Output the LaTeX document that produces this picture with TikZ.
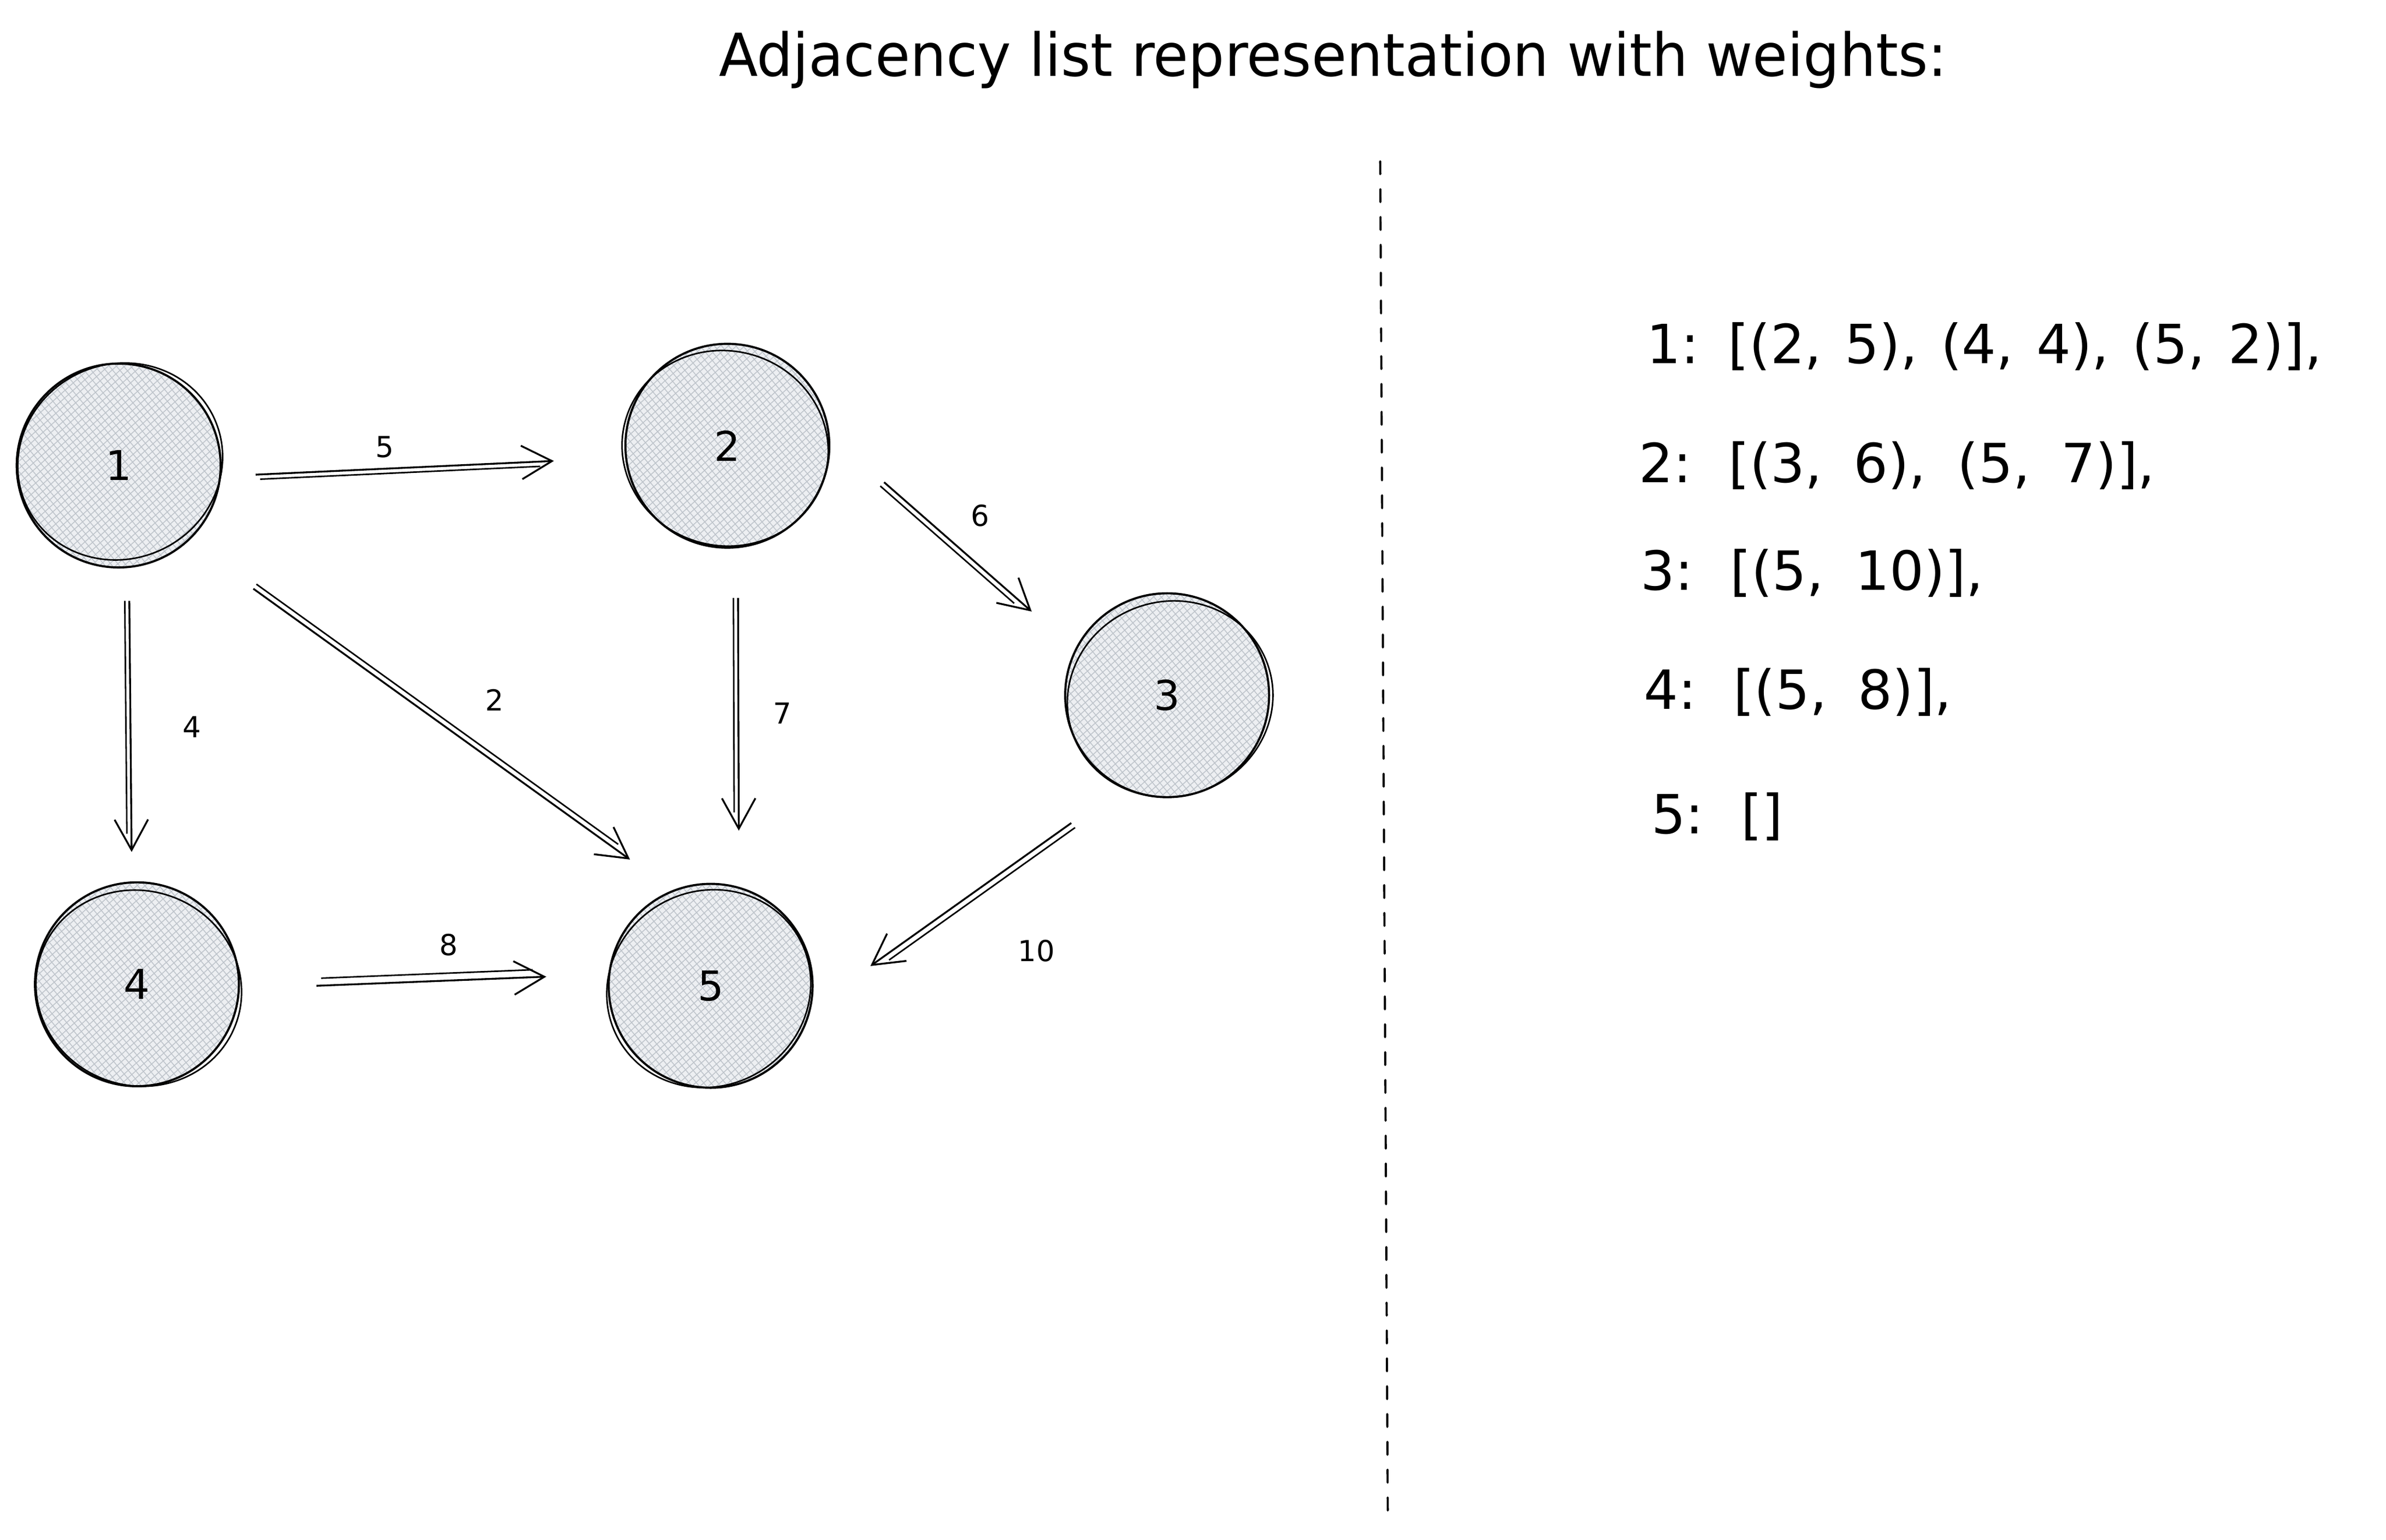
\documentclass[tikz,border=0pt]{standalone}
\usepackage{fontspec}
\setmainfont{DejaVu Sans}
\newfontfamily\titlefont[FakeStretch=0.96]{DejaVu Sans}
\newfontfamily\listfont[WordSpace=1.7]{DejaVu Sans}
\newfontfamily\listfontnarrow[WordSpace=1.35]{DejaVu Sans}
\usetikzlibrary{arrows.meta,patterns.meta}
\definecolor{hatch}{HTML}{BEC4CB}
\definecolor{nodebg}{HTML}{EDEFF2}
\newcommand{\skedge}[3]{\draw[edge] #1 -- #2; \draw[edgeb, transform canvas={shift={#3}}] #1 -- #2;}
\begin{document}
\begin{tikzpicture}[x=1pt,y=-1pt,
  gnode/.style={circle, draw=black, line width=1.4pt, minimum size=134pt, inner sep=0pt,
    font=\fontsize{27}{30}\selectfont,
    preaction={fill=nodebg},
    preaction={pattern={Lines[angle=42,distance=3.6pt,line width=0.55pt]}, pattern color=hatch},
    preaction={pattern={Lines[angle=-50,distance=3.6pt,line width=0.55pt]}, pattern color=hatch}},
  sketch/.style={draw=black, line width=1pt},
  edge/.style={line width=1.2pt, -{Straight Barb[length=20pt,width=22pt,line width=1.2pt]}},
  edgeb/.style={line width=1pt, shorten >=12pt},
  elabel/.style={font=\fontsize{19}{22}\selectfont, inner sep=0pt},
  listtext/.style={font=\listfont\fontsize{35.5}{40}\selectfont, inner sep=0pt},
  divider/.style={line width=1.4pt, line cap=round, dash pattern=on 8.5pt off 9.8pt}
]
\fill[white] (0,0) rectangle (1568,1012);
\useasboundingbox (0,0) rectangle (1568,1012);

% title
\node[anchor=base, inner sep=0pt, font=\titlefont\fontsize{39}{45}\selectfont] (title) at (876,50)
  {Adjacency list representation with weights:};

% graph nodes
\node[gnode] (n1) at (78,306) {1};
\node[gnode] (n2) at (478,293) {2};
\node[gnode] (n3) at (767,457) {3};
\node[gnode] (n4) at (90,647) {4};
\node[gnode] (n5) at (467,648) {5};

% second sketchy outlines
\foreach \n/\a/\dx/\dy in {n1/25/2/-2, n2/-15/-1/2, n3/20/1/3, n4/-20/2/2, n5/30/-2/1}{
  \draw[sketch, rotate around={\a:(\n.center)}] ([shift={(\dx,\dy)}]\n.center) ellipse [x radius=68pt, y radius=64pt];
}

% edges
\skedge{([shift={(90,6)}]n1.center)}{([shift={(-114,10)}]n2.center)}{(3,3)}
\skedge{([shift={(103,24)}]n2.center)}{([shift={(-89,-55)}]n3.center)}{(-2.5,2.5)}
\skedge{([shift={(7,89)}]n1.center)}{([shift={(-3.5,-87)}]n4.center)}{(-3,0)}
\skedge{([shift={(88.5,81)}]n1.center)}{([shift={(-53,-83)}]n5.center)}{(2,-3)}
\skedge{([shift={(7,100)}]n2.center)}{([shift={(18.5,-102)}]n5.center)}{(-3,0)}
\skedge{([shift={(118,1)}]n4.center)}{([shift={(-108,-6)}]n5.center)}{(3,-5)}
\skedge{([shift={(-63,84)}]n3.center)}{([shift={(105,-13)}]n5.center)}{(2.5,3)}

% edge labels
\node[elabel] (w12) at (253,294) {5};
\node[elabel] (w23) at (644,339) {6};
\node[elabel] (w14) at (126,478) {4};
\node[elabel] (w15) at (325,460) {2};
\node[elabel] (w25) at (514,469) {7};
\node[elabel] (w45) at (295,621) {8};
\node[elabel] (w35) at (681,625) {10};

% divider
\coordinate (dtop) at (907,106);
\coordinate (dbot) at (912,995);
\draw[divider] (dtop) -- (dbot);

% adjacency list
\node[listtext, anchor=base west, font=\listfontnarrow\fontsize{35.5}{40}\selectfont] (L1) at (1082,239) {1: [(2, 5), (4, 4), (5, 2)],};
\node[listtext, anchor=base west] (L2) at (1077,317) {2: [(3, 6), (5, 7)],};
\node[listtext, anchor=base west] (L3) at (1078,388) {3: [(5, 10)],};
\node[listtext, anchor=base west] (L4) at (1080,466) {4: [(5, 8)],};
\node[listtext, anchor=base west] (L5) at (1085,548) {5: []};
\end{tikzpicture}
\end{document}
